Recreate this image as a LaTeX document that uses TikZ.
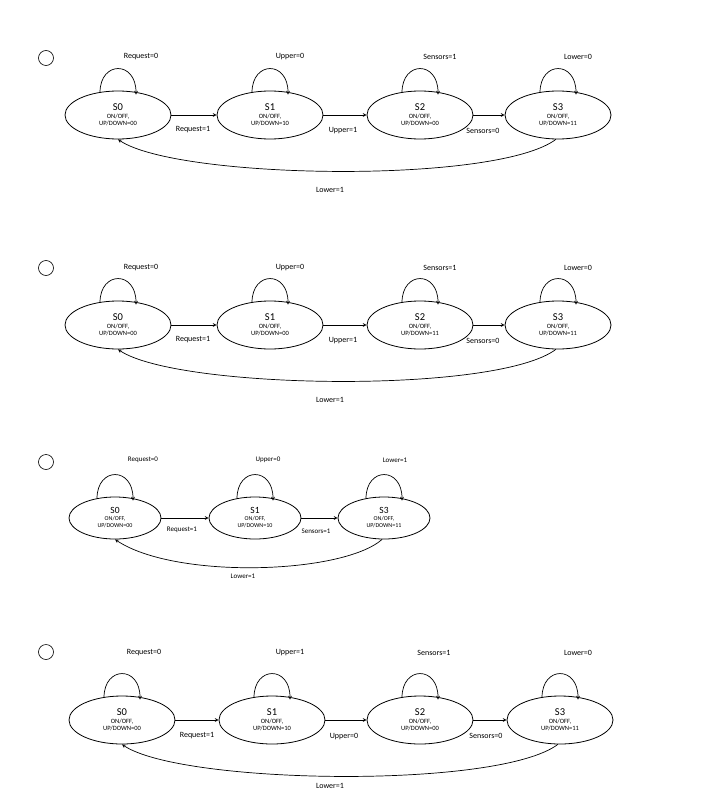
\documentclass[tikz,border=0pt]{standalone}
\usepackage{fontspec}
\setmainfont{Carlito}
\usetikzlibrary{shapes.geometric}
\tikzset{
 st/.style={ellipse,draw,line width=0.8pt,minimum width=106pt,minimum height=48pt,inner sep=0pt,align=center,font=\fontsize{6.5}{7.5}\selectfont},
 sst/.style={st,minimum width=92pt,minimum height=42pt,font=\fontsize{6}{7}\selectfont},
 ar/.style={->,>=stealth,line width=0.7pt},
 lb/.style={font=\fontsize{8}{9}\selectfont,inner sep=1pt},
 slb/.style={font=\fontsize{7}{8}\selectfont,inner sep=1pt},
 opt/.style={circle,draw,line width=0.6pt,minimum size=15pt,inner sep=0pt}
}
\newcommand{\stt}[2]{{\fontsize{10.5}{12}\selectfont #1}\\ON/OFF,\\UP/DOWN=#2}
\newcommand{\sstt}[2]{{\fontsize{9.5}{11}\selectfont #1}\\ON/OFF,\\UP/DOWN=#2}
\newcommand{\loopy}[1]{\draw[ar] ([xshift=-18pt,yshift=-2pt]#1.north) .. controls +(0,-32) and +(0,-34) .. ([xshift=18pt,yshift=-4pt]#1.north);}
\begin{document}
\begin{tikzpicture}[x=1pt,y=-1pt]
\useasboundingbox[fill=white] (0,0) rectangle (716,797);
% ---------- 1
\node[opt] (o1) at (46,58) {};
\node[st] (a0) at (118,115) {\stt{S0}{00}};
\node[st] (a1) at (270,115) {\stt{S1}{10}};
\node[st] (a2) at (420,115) {\stt{S2}{00}};
\node[st] (a3) at (558,115) {\stt{S3}{11}};
\foreach \n in {a0,a1,a2,a3} {\loopy{\n}}
\node[lb] (la0) at (141,57) {Request=0};
\node[lb] (la1) at (290,57) {Upper=0};
\node[lb] (la2) at (440,57) {Sensors=1};
\node[lb] (la3) at (578,57) {Lower=0};
\draw[ar] (a0) -- (a1); \draw[ar] (a1) -- (a2); \draw[ar] (a2) -- (a3);
\node[lb] (ta0) at (193,130) {Request=1};
\node[lb] (ta1) at (343,131) {Upper=1};
\node[lb] (ta2) at (483,131) {Sensors=0};
\draw[ar] (a3.-95) .. controls +(-60,45) and +(60,40) .. (a0.-90);
\node[lb] (ba) at (330,190) {Lower=1};
% ---------- 2
\node[opt] (o2) at (46,268) {};
\node[st] (b0) at (118,325) {\stt{S0}{00}};
\node[st] (b1) at (270,325) {\stt{S1}{00}};
\node[st] (b2) at (420,325) {\stt{S2}{11}};
\node[st] (b3) at (558,325) {\stt{S3}{11}};
\foreach \n in {b0,b1,b2,b3} {\loopy{\n}}
\node[lb] (lb0) at (141,268) {Request=0};
\node[lb] (lb1) at (290,268) {Upper=0};
\node[lb] (lb2) at (440,268) {Sensors=1};
\node[lb] (lb3) at (578,268) {Lower=0};
\draw[ar] (b0) -- (b1); \draw[ar] (b1) -- (b2); \draw[ar] (b2) -- (b3);
\node[lb] (tb0) at (193,340) {Request=1};
\node[lb] (tb1) at (343,341) {Upper=1};
\node[lb] (tb2) at (483,341) {Sensors=0};
\draw[ar] (b3.-95) .. controls +(-60,45) and +(60,40) .. (b0.-90);
\node[lb] (bb) at (330,400) {Lower=1};
% ---------- 3
\node[opt] (o3) at (46,462) {};
\node[sst] (c0) at (115,518) {\sstt{S0}{00}};
\node[sst] (c1) at (255,518) {\sstt{S1}{10}};
\node[sst] (c3) at (384,518) {\sstt{S3}{11}};
\foreach \n in {c0,c1,c3} {\loopy{\n}}
\node[slb] (lc0) at (143,460) {Request=0};
\node[slb] (lc1) at (268,460) {Upper=0};
\node[slb] (lc3) at (395,460) {Lower=1};
\draw[ar] (c0) -- (c1); \draw[ar] (c1) -- (c3);
\node[slb] (tc0) at (182,530) {Request=1};
\node[slb] (tc1) at (316,531) {Sensors=1};
\draw[ar] (c3.-95) .. controls +(-40,35) and +(60,40) .. (c0.-90);
\node[slb] (bc) at (243,576) {Lower=1};
% ---------- 4
\node[opt] (o4) at (46,652) {};
\node[st] (d0) at (122,720) {\stt{S0}{00}};
\node[st] (d1) at (272,720) {\stt{S1}{10}};
\node[st] (d2) at (420,720) {\stt{S2}{00}};
\node[st] (d3) at (560,720) {\stt{S3}{11}};
\foreach \n in {d0,d1,d2,d3} {\loopy{\n}}
\node[lb] (ld0) at (144,653) {Request=0};
\node[lb] (ld1) at (290,653) {Upper=1};
\node[lb] (ld2) at (434,653) {Sensors=1};
\node[lb] (ld3) at (578,653) {Lower=0};
\draw[ar] (d0) -- (d1); \draw[ar] (d1) -- (d2); \draw[ar] (d2) -- (d3);
\node[lb] (td0) at (197,736) {Request=1};
\node[lb] (td1) at (344,737) {Upper=0};
\node[lb] (td2) at (486,736) {Sensors=0};
\draw[ar] (d3.-95) .. controls +(-60,45) and +(60,40) .. (d0.-90);
\node[lb] (bd) at (330,786) {Lower=1};
\end{tikzpicture}
\end{document}
